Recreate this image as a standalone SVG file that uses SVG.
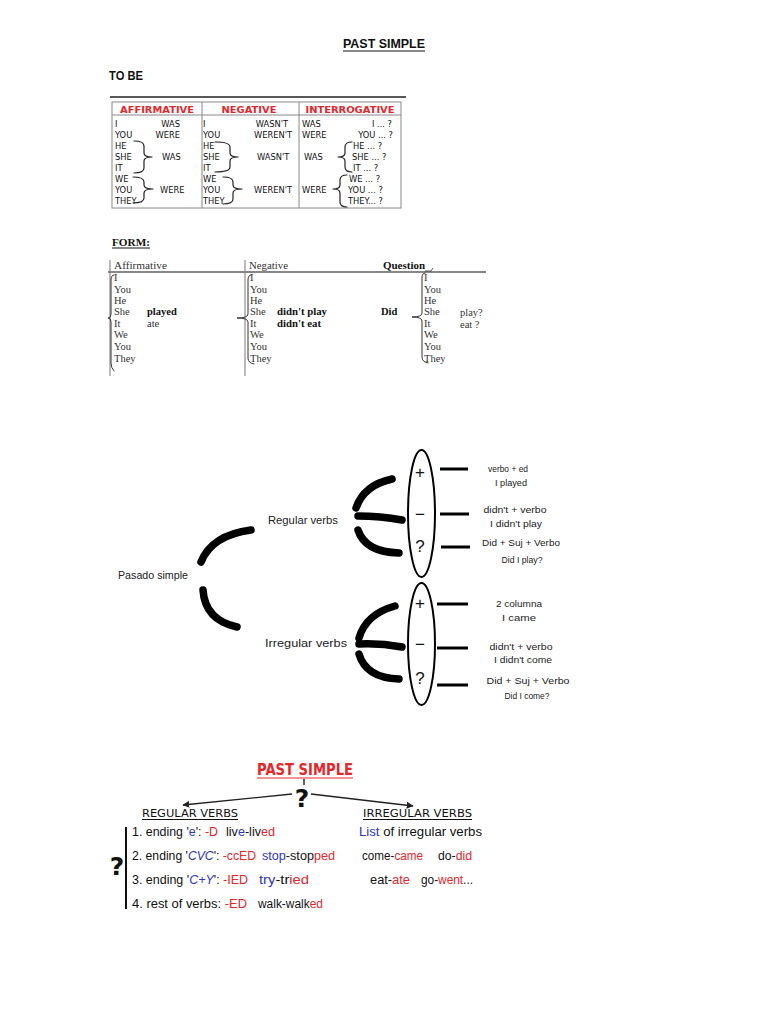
<svg xmlns="http://www.w3.org/2000/svg" width="768" height="1024" viewBox="0 0 768 1024">
<style>
.h1{font-family:"Liberation Sans",Arial,sans-serif;font-weight:bold;font-size:12px;fill:#111}
.tb{font-family:"DejaVu Sans",sans-serif;font-size:8.3px;fill:#111}
.hd{font-family:"DejaVu Sans",sans-serif;font-size:8.5px;font-weight:bold;fill:#e3262a;text-anchor:middle}
.fm{font-family:"Liberation Serif","Times New Roman",serif;font-size:10.5px;fill:#333}
.fb{font-family:"Liberation Serif","Times New Roman",serif;font-size:10.5px;font-weight:bold;fill:#111}
.hw{font-family:"Liberation Sans",Arial,sans-serif;font-size:9.5px;fill:#222;text-anchor:middle}
.hl{font-family:"Liberation Sans",Arial,sans-serif;font-size:10.5px;fill:#222}
.sym{font-family:"Liberation Sans",Arial,sans-serif;font-size:17px;fill:#111;text-anchor:middle}
.cs{font-family:"Liberation Sans",Arial,sans-serif;font-size:12px;fill:#111}
.big{font-family:"DejaVu Sans",sans-serif;font-size:25px;font-weight:bold;fill:#111;text-anchor:middle}
.ttl{font-family:"DejaVu Sans",sans-serif;font-size:15px;font-weight:bold;fill:#e5262b}
.sub{font-family:"DejaVu Sans",sans-serif;font-size:11px;fill:#111}
.r{fill:#e5262b}
.b{fill:#2d35c8}
.i{font-style:italic}
.brace{fill:none;stroke:#222;stroke-width:1.2;stroke-linejoin:round;stroke-linecap:round}
.fbrace{fill:none;stroke:#333;stroke-width:1;stroke-linecap:round}
.blob{fill:none;stroke:#000;stroke-width:7.5;stroke-linecap:round}
.dash{stroke:#000;stroke-width:3}
.ell{fill:none;stroke:#000;stroke-width:2}
.arr{stroke:#222;stroke-width:1.4;fill:none}
</style>
<defs>
<marker id="ah" viewBox="0 0 10 10" refX="9" refY="5" markerWidth="7" markerHeight="7" orient="auto-start-reverse" markerUnits="userSpaceOnUse">
<path d="M0,0 L10,5 L0,10 Z" fill="#222"/>
</marker>
</defs>
<rect width="768" height="1024" fill="#fff"/>

<g id="page-title">
<text class="h1" x="343" y="48" textLength="82" lengthAdjust="spacingAndGlyphs">PAST SIMPLE</text>
<line x1="343" y1="51" x2="425" y2="51" stroke="#111" stroke-width="1"/>
<text class="h1" x="109" y="80" textLength="34" lengthAdjust="spacingAndGlyphs">TO BE</text>
<line x1="110" y1="97" x2="406" y2="97" stroke="#222" stroke-width="1.5"/>
</g>

<g id="tobe-table">
<rect x="112" y="102" width="289" height="106" fill="none" stroke="#888" stroke-width="1"/>
<line x1="112" y1="115" x2="401" y2="115" stroke="#888" stroke-width="1"/>
<line x1="202" y1="102" x2="202" y2="208" stroke="#888" stroke-width="1"/>
<line x1="299" y1="102" x2="299" y2="208" stroke="#888" stroke-width="1"/>
<text class="hd" x="157" y="113" textLength="74" lengthAdjust="spacingAndGlyphs">AFFIRMATIVE</text>
<text class="hd" x="249" y="113" textLength="55" lengthAdjust="spacingAndGlyphs">NEGATIVE</text>
<text class="hd" x="350" y="113" textLength="89" lengthAdjust="spacingAndGlyphs">INTERROGATIVE</text>
<g class="tb">
<text x="115" y="127">I</text><text x="180" y="127" text-anchor="end">WAS</text>
<text x="115" y="138">YOU</text><text x="180" y="138" text-anchor="end">WERE</text>
<text x="115" y="149">HE</text><text x="115" y="160">SHE</text><text x="115" y="171">IT</text>
<text x="162" y="160">WAS</text>
<text x="115" y="182">WE</text><text x="115" y="193">YOU</text><text x="115" y="204">THEY</text>
<text x="160" y="193">WERE</text>

<text x="203" y="127">I</text><text x="288" y="127" text-anchor="end">WASN'T</text>
<text x="203" y="138">YOU</text><text x="292" y="138" text-anchor="end">WEREN'T</text>
<text x="203" y="149">HE</text><text x="203" y="160">SHE</text><text x="203" y="171">IT</text>
<text x="257" y="160">WASN'T</text>
<text x="203" y="182">WE</text><text x="203" y="193">YOU</text><text x="203" y="204">THEY</text>
<text x="254" y="193">WEREN'T</text>

<text x="302" y="127">WAS</text><text x="392" y="127" text-anchor="end">I ... ?</text>
<text x="302" y="138">WERE</text><text x="393" y="138" text-anchor="end">YOU ... ?</text>
<text x="353" y="149">HE ... ?</text><text x="352" y="160">SHE ... ?</text><text x="353" y="171">IT ... ?</text>
<text x="304" y="160">WAS</text>
<text x="349" y="182">WE ... ?</text><text x="348" y="193">YOU ... ?</text><text x="348" y="204">THEY... ?</text>
<text x="302" y="193">WERE</text>
</g>
<path class="brace" d="M134,141 Q144,141 144,146 L144,153 Q144,157 152,157 Q144,157 144,161 L144,168 Q144,173 134,173"/>
<path class="brace" d="M133,177 Q144,177 144,182 L144,185 Q144,189 153,189 Q144,189 144,193 L144,198 Q144,203 133,203"/>
<path class="brace" d="M215,142 Q230,142 230,147 L230,153 Q230,157 238,157 Q230,157 230,161 L230,167 Q230,172 215,172"/>
<path class="brace" d="M223,177 Q233,177 233,182 L233,185 Q233,189 242,189 Q233,189 233,193 L233,199 Q233,204 223,204"/>
<path class="brace" d="M352,142 Q345,142 345,147 L345,153 Q345,157 338,157 Q345,157 345,161 L345,167 Q345,172 352,172"/>
<path class="brace" d="M347,175 Q340,175 340,180 L340,185 Q340,189 333,189 Q340,189 340,193 L340,202 Q340,207 347,207"/>
</g>

<g id="form-table">
<text class="fb" x="112" y="246" textLength="38" lengthAdjust="spacingAndGlyphs">FORM:</text>
<line x1="112" y1="248" x2="150" y2="248" stroke="#111" stroke-width="1"/>
<line x1="108" y1="272" x2="486" y2="272" stroke="#111" stroke-width="1.2"/>
<line x1="110" y1="260" x2="110" y2="376" stroke="#777" stroke-width="1"/>
<line x1="245" y1="260" x2="245" y2="376" stroke="#777" stroke-width="1"/>
<text class="fm" x="114" y="269" textLength="53" lengthAdjust="spacingAndGlyphs" fill="#111">Affirmative</text>
<text class="fm" x="249" y="269" textLength="39" lengthAdjust="spacingAndGlyphs">Negative</text>
<text class="fb" x="383" y="269" textLength="42" lengthAdjust="spacingAndGlyphs">Question</text>
<path d="M425,271 L431,271 L433,268" fill="none" stroke="#333" stroke-width="0.8"/>
<g class="fm">
<text x="114" y="281">I</text><text x="114" y="293">You</text><text x="114" y="304">He</text><text x="114" y="315">She</text><text x="114" y="327">It</text><text x="114" y="338">We</text><text x="114" y="350">You</text><text x="114" y="362">They</text>
<text x="250" y="281">I</text><text x="250" y="293">You</text><text x="250" y="304">He</text><text x="250" y="315">She</text><text x="250" y="327">It</text><text x="250" y="338">We</text><text x="250" y="350">You</text><text x="250" y="362">They</text>
<text x="424" y="281">I</text><text x="424" y="293">You</text><text x="424" y="304">He</text><text x="424" y="315">She</text><text x="424" y="327">It</text><text x="424" y="338">We</text><text x="424" y="350">You</text><text x="424" y="362">They</text>
<text x="147" y="327">ate</text>
<text x="460" y="316">play?</text>
<text x="460" y="328">eat ?</text>
</g>
<text class="fb" x="147" y="315">played</text>
<text class="fb" x="277" y="315" textLength="50" lengthAdjust="spacingAndGlyphs">didn't play</text>
<text class="fb" x="277" y="327" textLength="44" lengthAdjust="spacingAndGlyphs">didn't eat</text>
<text class="fb" x="381" y="315">Did</text>
<path class="fbrace" d="M114,275 Q111,275 111,280 L111,314 Q111,318 108,318 Q111,318 111,322 L111,363 Q111,368 114,371"/>
<path class="fbrace" d="M251,275 Q248,275 248,280 L248,314 Q248,318 237,318 Q248,318 248,322 L248,358 Q248,363 254,364"/>
<path class="fbrace" d="M425,273 Q422,273 422,278 L422,313 Q422,317 412,317 Q422,317 422,321 L422,357 Q422,362 428,363"/>
</g>

<g id="node-pasado">
<text class="hl" x="118" y="579" textLength="70" lengthAdjust="spacingAndGlyphs">Pasado simple</text>
</g>
<g id="node-regular">
<text class="hl" x="268" y="524" textLength="70" lengthAdjust="spacingAndGlyphs">Regular verbs</text>
</g>
<g id="node-irregular">
<text class="hl" x="265" y="647" textLength="82" lengthAdjust="spacingAndGlyphs">Irregular verbs</text>
</g>

<g id="connectors">
<path class="blob" d="M201,562 Q212,535 251,530"/>
<path class="blob" d="M203,590 Q205,620 237,627"/>
<path class="blob" d="M356,508 Q364,485 392,479"/>
<path class="blob" d="M358,516 Q380,516 402,520"/>
<path class="blob" d="M358,530 Q365,552 399,553"/>
<path class="blob" d="M359,638 Q366,614 395,606"/>
<path class="blob" d="M359,644 Q380,643 402,647"/>
<path class="blob" d="M359,654 Q366,678 399,679"/>
<line class="dash" x1="440" y1="469" x2="468" y2="469"/>
<line class="dash" x1="440" y1="514" x2="469" y2="514"/>
<line class="dash" x1="441" y1="547" x2="470" y2="547"/>
<line class="dash" x1="437" y1="604" x2="468" y2="604"/>
<line class="dash" x1="437" y1="648" x2="468" y2="648"/>
<line class="dash" x1="437" y1="685" x2="468" y2="685"/>
</g>

<g id="node-regular-forms">
<ellipse class="ell" cx="421.5" cy="513.5" rx="13.5" ry="63.5"/>
<text class="sym" x="420" y="478">+</text>
<text class="sym" x="420" y="520">−</text>
<text class="sym" x="420" y="552">?</text>
</g>
<g id="node-irregular-forms">
<ellipse class="ell" cx="421.5" cy="644" rx="13.5" ry="61"/>
<text class="sym" x="420" y="609">+</text>
<text class="sym" x="420" y="650">−</text>
<text class="sym" x="420" y="684">?</text>
</g>

<g id="node-regular-texts" class="hw">
<text x="508" y="472" textLength="40" lengthAdjust="spacingAndGlyphs">verbo + ed</text>
<text x="511" y="486" textLength="32" lengthAdjust="spacingAndGlyphs">I played</text>
<text x="515" y="513" textLength="63" lengthAdjust="spacingAndGlyphs">didn't + verbo</text>
<text x="516" y="527" textLength="52" lengthAdjust="spacingAndGlyphs">I didn't play</text>
<text x="521" y="546" textLength="78" lengthAdjust="spacingAndGlyphs">Did + Suj + Verbo</text>
<text x="522" y="563" textLength="41" lengthAdjust="spacingAndGlyphs">Did I play?</text>
</g>
<g id="node-irregular-texts" class="hw">
<text x="519" y="607" textLength="46" lengthAdjust="spacingAndGlyphs">2 columna</text>
<text x="519" y="621" textLength="34" lengthAdjust="spacingAndGlyphs">I came</text>
<text x="521" y="650" textLength="63" lengthAdjust="spacingAndGlyphs">didn't + verbo</text>
<text x="523" y="663" textLength="58" lengthAdjust="spacingAndGlyphs">I didn't come</text>
<text x="528" y="684" textLength="83" lengthAdjust="spacingAndGlyphs">Did + Suj + Verbo</text>
<text x="527" y="699" textLength="45" lengthAdjust="spacingAndGlyphs">Did I come?</text>
</g>

<g id="past-simple-chart">
<text class="ttl" x="257" y="775" textLength="96" lengthAdjust="spacingAndGlyphs">PAST SIMPLE</text>
<line x1="257" y1="778" x2="353" y2="778" stroke="#e5262b" stroke-width="1.2"/>
<line x1="304" y1="779" x2="304" y2="785" stroke="#222" stroke-width="1.4"/>
<text class="big" x="302" y="807">?</text>
<line class="arr" x1="292" y1="794" x2="183" y2="805" marker-end="url(#ah)"/>
<line class="arr" x1="311" y1="794" x2="413" y2="806" marker-end="url(#ah)"/>
<text class="sub" x="142" y="817" textLength="96" lengthAdjust="spacingAndGlyphs">REGULAR VERBS</text>
<line x1="142" y1="819.5" x2="238" y2="819.5" stroke="#111" stroke-width="1"/>
<text class="sub" x="363" y="817" textLength="109" lengthAdjust="spacingAndGlyphs">IRREGULAR VERBS</text>
<line x1="363" y1="819.5" x2="472" y2="819.5" stroke="#111" stroke-width="1"/>
<line x1="126" y1="827" x2="126" y2="909" stroke="#111" stroke-width="2"/>
<text class="big" x="117" y="875">?</text>
<text class="cs" x="132" y="836" textLength="86" lengthAdjust="spacingAndGlyphs">1. ending '<tspan class="b">e</tspan>': <tspan class="r">-D</tspan></text>
<text class="cs" x="226" y="836" textLength="49" lengthAdjust="spacingAndGlyphs">liv<tspan class="b">e</tspan>-liv<tspan class="r">ed</tspan></text>
<text class="cs" x="132" y="860" textLength="124" lengthAdjust="spacingAndGlyphs">2. ending '<tspan class="b i">CVC</tspan>': <tspan class="r">-ccED</tspan></text>
<text class="cs" x="262" y="860" textLength="73" lengthAdjust="spacingAndGlyphs"><tspan class="b">stop</tspan>-stop<tspan class="r">ped</tspan></text>
<text class="cs" x="132" y="884" textLength="116" lengthAdjust="spacingAndGlyphs">3. ending '<tspan class="b i">C+Y</tspan>': <tspan class="r">-IED</tspan></text>
<text class="cs" x="259" y="884" textLength="50" lengthAdjust="spacingAndGlyphs"><tspan class="b">try</tspan>-tr<tspan class="r">ied</tspan></text>
<text class="cs" x="132" y="908" textLength="115" lengthAdjust="spacingAndGlyphs">4. rest of verbs: <tspan class="r">-ED</tspan></text>
<text class="cs" x="258" y="908" textLength="65" lengthAdjust="spacingAndGlyphs">walk-walk<tspan class="r">ed</tspan></text>
<text class="cs" x="359" y="836" textLength="123" lengthAdjust="spacingAndGlyphs"><tspan class="b">List</tspan> of irregular verbs</text>
<text class="cs" x="362" y="860" textLength="61" lengthAdjust="spacingAndGlyphs">come-<tspan class="r">came</tspan></text>
<text class="cs" x="438" y="860" textLength="34" lengthAdjust="spacingAndGlyphs">do-<tspan class="r">did</tspan></text>
<text class="cs" x="370" y="884" textLength="40" lengthAdjust="spacingAndGlyphs">eat-<tspan class="r">ate</tspan></text>
<text class="cs" x="421" y="884" textLength="52" lengthAdjust="spacingAndGlyphs">go-<tspan class="r">went</tspan>...</text>
</g>
</svg>
